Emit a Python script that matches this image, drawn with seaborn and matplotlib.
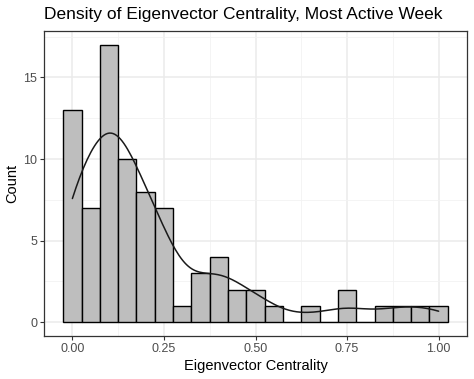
import numpy as np
import pandas as pd
import matplotlib
matplotlib.use("Agg")
import matplotlib.pyplot as plt
import seaborn as sns
from matplotlib.ticker import MultipleLocator

# Histogram bin centers and counts
bin_centers = [0.00, 0.05, 0.10, 0.15, 0.20, 0.25, 0.30, 0.35, 0.40, 0.45,
               0.50, 0.55, 0.60, 0.65, 0.70, 0.75, 0.80, 0.85, 0.90, 0.95, 1.00]
counts = [13, 7, 17, 10, 8, 7, 1, 3, 4, 2,
          2, 1, 0, 1, 0, 2, 0, 1, 1, 1, 1]
x_ticks = [0.00, 0.25, 0.50, 0.75, 1.00]
x_tick_labels = ["0.00", "0.25", "0.50", "0.75", "1.00"]
y_ticks = [0, 5, 10, 15]

values = np.repeat(bin_centers, counts)
df = pd.DataFrame({"centrality": values})

sns.set_style("white")
plt.rcParams["font.family"] = ["Liberation Sans", "DejaVu Sans"]

fig = plt.figure(figsize=(4.74, 3.79), dpi=100)
ax = fig.add_axes([44 / 474, 1 - 336 / 379, (467 - 44) / 474, (336 - 31) / 379])

sns.histplot(data=df, x="centrality", binwidth=0.05, binrange=(-0.025, 1.025),
             color="#bebebe", edgecolor="black", linewidth=1.0, alpha=1.0,
             kde=True, kde_kws={"bw_adjust": 0.6, "cut": 0},
             line_kws={"color": "#1a1a1a", "linewidth": 1.1}, ax=ax)
for line in ax.lines:
    line.set_color("#1a1a1a")

ax.set_xlim(-0.0775, 1.0775)
ax.set_ylim(-0.85, 17.85)
ax.set_xticks(x_ticks)
ax.set_xticklabels(x_tick_labels)
ax.set_yticks(y_ticks)
ax.xaxis.set_minor_locator(MultipleLocator(0.125))
ax.yaxis.set_minor_locator(MultipleLocator(2.5))
ax.set_axisbelow(True)
ax.grid(which="major", color="#ebebeb", linewidth=1.1)
ax.grid(which="minor", color="#f2f2f2", linewidth=0.6)
ax.tick_params(axis="both", which="major", length=3, width=0.8, color="#333333",
               labelsize=9, labelcolor="#4d4d4d", pad=2, bottom=True, left=True)
ax.tick_params(axis="both", which="minor", length=0)
for sp in ax.spines.values():
    sp.set_visible(True)
    sp.set_color("#333333")
    sp.set_linewidth(0.9)

ax.set_xlabel("Eigenvector Centrality", fontsize=10.5, color="black", labelpad=3)
ax.set_ylabel("Count", fontsize=10.5, color="black", labelpad=3)
fig.text(44 / 474, 1 - 15 / 379, "Density of Eigenvector Centrality, Most Active Week",
         fontsize=12.5, color="black", ha="left", va="center")

fig.savefig("out.png", dpi=100)
